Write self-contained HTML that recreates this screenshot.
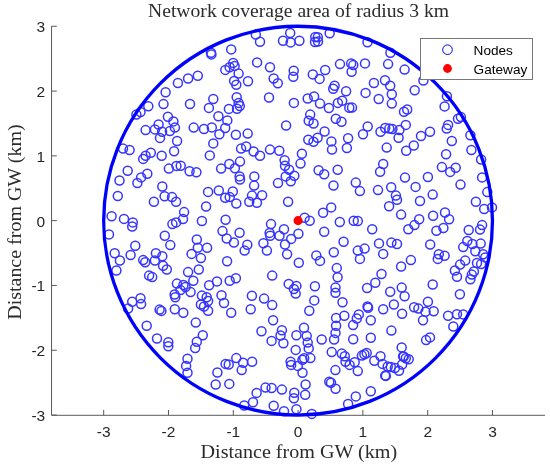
<!DOCTYPE html>
<html><head><meta charset="utf-8"><style>html,body{margin:0;padding:0;background:#fff;width:550px;height:466px;overflow:hidden}svg{display:block;filter:blur(0.3px)}</style></head>
<body><svg width="550" height="466" viewBox="0 0 550 466"><rect x="0" y="0" width="550" height="466" fill="#fff"/><path d="M51.55 26.2 V415.3 H545" fill="none" stroke="#5a5a5a" stroke-width="1"/><path d="M103.68 415.3 V410 M51.55 415.05 H56.8 M168.48 415.3 V410 M51.55 350.25 H56.8 M233.28 415.3 V410 M51.55 285.45 H56.8 M298.08 415.3 V410 M51.55 220.65 H56.8 M362.88 415.3 V410 M51.55 155.85 H56.8 M427.68 415.3 V410 M51.55 91.05 H56.8 M492.48 415.3 V410 M51.55 26.25 H56.8" fill="none" stroke="#5a5a5a" stroke-width="1"/><g font-family="Liberation Sans, Arial, sans-serif" font-size="15.5" fill="#262626"><text x="103.7" y="437.2" text-anchor="middle">-3</text><text x="45.2" y="421.0" text-anchor="end">-3</text><text x="168.5" y="437.2" text-anchor="middle">-2</text><text x="45.2" y="356.2" text-anchor="end">-2</text><text x="233.3" y="437.2" text-anchor="middle">-1</text><text x="45.2" y="291.4" text-anchor="end">-1</text><text x="298.1" y="437.2" text-anchor="middle">0</text><text x="45.2" y="226.7" text-anchor="end">0</text><text x="362.9" y="437.2" text-anchor="middle">1</text><text x="45.2" y="161.9" text-anchor="end">1</text><text x="427.7" y="437.2" text-anchor="middle">2</text><text x="45.2" y="97.1" text-anchor="end">2</text><text x="492.5" y="437.2" text-anchor="middle">3</text><text x="45.2" y="32.3" text-anchor="end">3</text></g><g fill="none" stroke="#3535ff" stroke-width="1.5"><circle cx="165.6" cy="92.3" r="4.5"/><circle cx="177.9" cy="83.0" r="4.5"/><circle cx="163.5" cy="104.1" r="4.5"/><circle cx="148.3" cy="106.2" r="4.5"/><circle cx="255.8" cy="34.6" r="4.5"/><circle cx="260.0" cy="41.8" r="4.5"/><circle cx="231.2" cy="49.4" r="4.5"/><circle cx="211.0" cy="52.7" r="4.5"/><circle cx="211.4" cy="54.4" r="4.5"/><circle cx="257.1" cy="62.4" r="4.5"/><circle cx="197.8" cy="75.8" r="4.5"/><circle cx="188.1" cy="78.5" r="4.5"/><circle cx="213.3" cy="99.0" r="4.5"/><circle cx="190.0" cy="104.0" r="4.5"/><circle cx="208.9" cy="107.9" r="4.5"/><circle cx="236.7" cy="97.3" r="4.5"/><circle cx="238.6" cy="102.9" r="4.5"/><circle cx="239.8" cy="106.0" r="4.5"/><circle cx="228.9" cy="108.9" r="4.5"/><circle cx="290.2" cy="33.0" r="4.5"/><circle cx="283.0" cy="40.8" r="4.5"/><circle cx="290.6" cy="42.4" r="4.5"/><circle cx="299.4" cy="40.8" r="4.5"/><circle cx="329.7" cy="33.2" r="4.5"/><circle cx="270.0" cy="67.2" r="4.5"/><circle cx="273.7" cy="78.5" r="4.5"/><circle cx="277.8" cy="83.2" r="4.5"/><circle cx="293.7" cy="70.7" r="4.5"/><circle cx="293.3" cy="76.8" r="4.5"/><circle cx="312.8" cy="74.4" r="4.5"/><circle cx="319.6" cy="78.9" r="4.5"/><circle cx="325.2" cy="70.0" r="4.5"/><circle cx="340.0" cy="64.1" r="4.5"/><circle cx="334.6" cy="85.7" r="4.5"/><circle cx="333.2" cy="88.7" r="4.5"/><circle cx="269.0" cy="97.5" r="4.5"/><circle cx="293.9" cy="102.9" r="4.5"/><circle cx="307.7" cy="98.5" r="4.5"/><circle cx="314.1" cy="96.4" r="4.5"/><circle cx="320.0" cy="103.6" r="4.5"/><circle cx="328.9" cy="108.0" r="4.5"/><circle cx="337.9" cy="102.9" r="4.5"/><circle cx="342.2" cy="100.8" r="4.5"/><circle cx="367.5" cy="42.2" r="4.5"/><circle cx="390.4" cy="52.7" r="4.5"/><circle cx="351.2" cy="63.4" r="4.5"/><circle cx="353.3" cy="65.1" r="4.5"/><circle cx="351.6" cy="71.7" r="4.5"/><circle cx="365.0" cy="63.4" r="4.5"/><circle cx="388.1" cy="64.1" r="4.5"/><circle cx="404.6" cy="69.6" r="4.5"/><circle cx="346.1" cy="91.3" r="4.5"/><circle cx="373.9" cy="83.0" r="4.5"/><circle cx="385.0" cy="80.3" r="4.5"/><circle cx="390.2" cy="85.7" r="4.5"/><circle cx="391.8" cy="94.3" r="4.5"/><circle cx="365.6" cy="92.9" r="4.5"/><circle cx="378.7" cy="99.0" r="4.5"/><circle cx="391.8" cy="103.6" r="4.5"/><circle cx="414.7" cy="90.2" r="4.5"/><circle cx="407.2" cy="109.5" r="4.5"/><circle cx="423.4" cy="80.5" r="4.5"/><circle cx="446.9" cy="96.2" r="4.5"/><circle cx="444.6" cy="106.4" r="4.5"/><circle cx="136.4" cy="114.6" r="4.5"/><circle cx="140.5" cy="112.1" r="4.5"/><circle cx="167.9" cy="116.7" r="4.5"/><circle cx="173.4" cy="121.4" r="4.5"/><circle cx="158.6" cy="124.5" r="4.5"/><circle cx="174.9" cy="127.6" r="4.5"/><circle cx="145.6" cy="130.1" r="4.5"/><circle cx="154.9" cy="129.4" r="4.5"/><circle cx="162.1" cy="131.7" r="4.5"/><circle cx="169.9" cy="131.1" r="4.5"/><circle cx="160.0" cy="137.9" r="4.5"/><circle cx="177.1" cy="141.0" r="4.5"/><circle cx="123.0" cy="148.6" r="4.5"/><circle cx="129.6" cy="150.0" r="4.5"/><circle cx="150.8" cy="152.7" r="4.5"/><circle cx="145.6" cy="155.8" r="4.5"/><circle cx="143.2" cy="158.9" r="4.5"/><circle cx="161.7" cy="155.8" r="4.5"/><circle cx="174.1" cy="151.3" r="4.5"/><circle cx="127.7" cy="170.8" r="4.5"/><circle cx="119.5" cy="180.5" r="4.5"/><circle cx="137.4" cy="183.0" r="4.5"/><circle cx="141.1" cy="177.4" r="4.5"/><circle cx="147.3" cy="173.7" r="4.5"/><circle cx="162.3" cy="186.5" r="4.5"/><circle cx="168.9" cy="168.6" r="4.5"/><circle cx="176.4" cy="165.9" r="4.5"/><circle cx="180.7" cy="165.7" r="4.5"/><circle cx="237.0" cy="108.8" r="4.5"/><circle cx="218.4" cy="116.2" r="4.5"/><circle cx="227.3" cy="120.4" r="4.5"/><circle cx="193.7" cy="127.6" r="4.5"/><circle cx="204.0" cy="129.0" r="4.5"/><circle cx="211.8" cy="127.4" r="4.5"/><circle cx="219.4" cy="134.2" r="4.5"/><circle cx="225.2" cy="128.0" r="4.5"/><circle cx="235.9" cy="134.8" r="4.5"/><circle cx="247.7" cy="133.6" r="4.5"/><circle cx="213.3" cy="143.4" r="4.5"/><circle cx="241.1" cy="148.6" r="4.5"/><circle cx="246.2" cy="146.5" r="4.5"/><circle cx="253.6" cy="151.5" r="4.5"/><circle cx="260.0" cy="155.8" r="4.5"/><circle cx="209.8" cy="155.4" r="4.5"/><circle cx="240.0" cy="161.6" r="4.5"/><circle cx="229.3" cy="164.0" r="4.5"/><circle cx="234.9" cy="168.2" r="4.5"/><circle cx="221.1" cy="168.6" r="4.5"/><circle cx="239.6" cy="176.4" r="4.5"/><circle cx="240.0" cy="179.5" r="4.5"/><circle cx="254.3" cy="176.4" r="4.5"/><circle cx="254.1" cy="185.6" r="4.5"/><circle cx="189.6" cy="171.3" r="4.5"/><circle cx="196.4" cy="172.3" r="4.5"/><circle cx="310.2" cy="114.6" r="4.5"/><circle cx="308.7" cy="120.8" r="4.5"/><circle cx="313.5" cy="123.5" r="4.5"/><circle cx="335.8" cy="118.7" r="4.5"/><circle cx="341.5" cy="121.8" r="4.5"/><circle cx="286.1" cy="125.5" r="4.5"/><circle cx="324.6" cy="131.5" r="4.5"/><circle cx="308.3" cy="139.7" r="4.5"/><circle cx="313.5" cy="141.8" r="4.5"/><circle cx="317.6" cy="137.7" r="4.5"/><circle cx="331.4" cy="141.4" r="4.5"/><circle cx="332.0" cy="149.6" r="4.5"/><circle cx="270.0" cy="149.6" r="4.5"/><circle cx="279.3" cy="150.7" r="4.5"/><circle cx="301.9" cy="153.7" r="4.5"/><circle cx="300.5" cy="163.6" r="4.5"/><circle cx="284.6" cy="160.3" r="4.5"/><circle cx="285.0" cy="165.7" r="4.5"/><circle cx="289.1" cy="169.8" r="4.5"/><circle cx="294.3" cy="175.7" r="4.5"/><circle cx="285.7" cy="176.4" r="4.5"/><circle cx="290.8" cy="181.2" r="4.5"/><circle cx="278.0" cy="183.1" r="4.5"/><circle cx="318.6" cy="170.2" r="4.5"/><circle cx="324.2" cy="174.3" r="4.5"/><circle cx="337.7" cy="169.8" r="4.5"/><circle cx="333.5" cy="185.5" r="4.5"/><circle cx="404.0" cy="111.7" r="4.5"/><circle cx="367.7" cy="126.5" r="4.5"/><circle cx="363.0" cy="134.2" r="4.5"/><circle cx="380.5" cy="131.7" r="4.5"/><circle cx="385.2" cy="128.0" r="4.5"/><circle cx="389.3" cy="128.6" r="4.5"/><circle cx="392.4" cy="129.0" r="4.5"/><circle cx="399.4" cy="130.1" r="4.5"/><circle cx="398.6" cy="137.7" r="4.5"/><circle cx="405.8" cy="124.9" r="4.5"/><circle cx="421.0" cy="136.0" r="4.5"/><circle cx="348.1" cy="138.3" r="4.5"/><circle cx="346.9" cy="148.0" r="4.5"/><circle cx="386.7" cy="147.6" r="4.5"/><circle cx="413.8" cy="145.5" r="4.5"/><circle cx="406.2" cy="150.7" r="4.5"/><circle cx="383.2" cy="164.0" r="4.5"/><circle cx="380.1" cy="171.7" r="4.5"/><circle cx="355.8" cy="182.6" r="4.5"/><circle cx="391.2" cy="187.3" r="4.5"/><circle cx="405.0" cy="177.6" r="4.5"/><circle cx="415.6" cy="186.9" r="4.5"/><circle cx="458.0" cy="118.7" r="4.5"/><circle cx="460.9" cy="117.1" r="4.5"/><circle cx="448.1" cy="124.9" r="4.5"/><circle cx="446.7" cy="128.6" r="4.5"/><circle cx="430.0" cy="131.7" r="4.5"/><circle cx="470.4" cy="135.2" r="4.5"/><circle cx="451.8" cy="141.0" r="4.5"/><circle cx="471.4" cy="150.0" r="4.5"/><circle cx="446.1" cy="154.2" r="4.5"/><circle cx="481.1" cy="159.5" r="4.5"/><circle cx="441.9" cy="167.1" r="4.5"/><circle cx="450.2" cy="171.9" r="4.5"/><circle cx="455.7" cy="167.8" r="4.5"/><circle cx="427.9" cy="177.0" r="4.5"/><circle cx="460.5" cy="184.6" r="4.5"/><circle cx="482.1" cy="177.4" r="4.5"/><circle cx="117.8" cy="196.0" r="4.5"/><circle cx="164.6" cy="196.2" r="4.5"/><circle cx="172.0" cy="197.1" r="4.5"/><circle cx="176.1" cy="201.8" r="4.5"/><circle cx="153.9" cy="201.8" r="4.5"/><circle cx="111.6" cy="216.2" r="4.5"/><circle cx="124.0" cy="218.9" r="4.5"/><circle cx="132.8" cy="222.4" r="4.5"/><circle cx="132.2" cy="226.5" r="4.5"/><circle cx="184.1" cy="212.1" r="4.5"/><circle cx="183.0" cy="219.1" r="4.5"/><circle cx="176.1" cy="222.4" r="4.5"/><circle cx="172.4" cy="224.1" r="4.5"/><circle cx="109.0" cy="234.4" r="4.5"/><circle cx="164.8" cy="235.8" r="4.5"/><circle cx="170.3" cy="245.1" r="4.5"/><circle cx="135.3" cy="245.7" r="4.5"/><circle cx="130.6" cy="255.0" r="4.5"/><circle cx="114.7" cy="253.3" r="4.5"/><circle cx="119.9" cy="260.5" r="4.5"/><circle cx="143.2" cy="260.1" r="4.5"/><circle cx="145.2" cy="262.2" r="4.5"/><circle cx="155.9" cy="253.3" r="4.5"/><circle cx="154.9" cy="260.5" r="4.5"/><circle cx="162.3" cy="256.2" r="4.5"/><circle cx="163.1" cy="265.7" r="4.5"/><circle cx="208.1" cy="191.9" r="4.5"/><circle cx="218.8" cy="190.5" r="4.5"/><circle cx="225.2" cy="197.7" r="4.5"/><circle cx="229.7" cy="197.1" r="4.5"/><circle cx="232.8" cy="191.5" r="4.5"/><circle cx="236.3" cy="203.5" r="4.5"/><circle cx="252.0" cy="195.6" r="4.5"/><circle cx="249.3" cy="201.8" r="4.5"/><circle cx="256.9" cy="202.8" r="4.5"/><circle cx="262.1" cy="195.2" r="4.5"/><circle cx="206.1" cy="206.5" r="4.5"/><circle cx="201.9" cy="221.0" r="4.5"/><circle cx="225.6" cy="219.7" r="4.5"/><circle cx="222.5" cy="231.1" r="4.5"/><circle cx="226.7" cy="238.5" r="4.5"/><circle cx="233.9" cy="242.6" r="4.5"/><circle cx="239.6" cy="232.7" r="4.5"/><circle cx="247.3" cy="244.7" r="4.5"/><circle cx="244.6" cy="250.6" r="4.5"/><circle cx="263.4" cy="243.3" r="4.5"/><circle cx="196.8" cy="239.5" r="4.5"/><circle cx="197.8" cy="247.8" r="4.5"/><circle cx="207.1" cy="247.8" r="4.5"/><circle cx="191.6" cy="253.9" r="4.5"/><circle cx="200.9" cy="258.1" r="4.5"/><circle cx="227.1" cy="261.2" r="4.5"/><circle cx="288.1" cy="201.8" r="4.5"/><circle cx="331.2" cy="207.4" r="4.5"/><circle cx="323.1" cy="212.7" r="4.5"/><circle cx="304.6" cy="217.7" r="4.5"/><circle cx="309.7" cy="220.8" r="4.5"/><circle cx="339.8" cy="222.0" r="4.5"/><circle cx="271.0" cy="224.1" r="4.5"/><circle cx="284.0" cy="229.2" r="4.5"/><circle cx="269.6" cy="232.9" r="4.5"/><circle cx="270.2" cy="235.8" r="4.5"/><circle cx="279.5" cy="235.8" r="4.5"/><circle cx="291.2" cy="238.9" r="4.5"/><circle cx="298.4" cy="233.7" r="4.5"/><circle cx="285.0" cy="244.5" r="4.5"/><circle cx="266.9" cy="250.6" r="4.5"/><circle cx="287.1" cy="254.3" r="4.5"/><circle cx="298.8" cy="262.7" r="4.5"/><circle cx="324.2" cy="231.7" r="4.5"/><circle cx="343.6" cy="241.8" r="4.5"/><circle cx="333.8" cy="252.3" r="4.5"/><circle cx="316.3" cy="255.4" r="4.5"/><circle cx="320.0" cy="260.9" r="4.5"/><circle cx="336.8" cy="268.1" r="4.5"/><circle cx="359.9" cy="191.1" r="4.5"/><circle cx="378.0" cy="190.1" r="4.5"/><circle cx="395.9" cy="195.6" r="4.5"/><circle cx="397.0" cy="199.8" r="4.5"/><circle cx="389.1" cy="206.3" r="4.5"/><circle cx="420.0" cy="201.0" r="4.5"/><circle cx="353.7" cy="220.8" r="4.5"/><circle cx="357.8" cy="221.0" r="4.5"/><circle cx="401.1" cy="214.6" r="4.5"/><circle cx="419.2" cy="219.3" r="4.5"/><circle cx="414.5" cy="225.1" r="4.5"/><circle cx="408.3" cy="229.2" r="4.5"/><circle cx="372.2" cy="229.2" r="4.5"/><circle cx="379.0" cy="243.4" r="4.5"/><circle cx="391.4" cy="242.6" r="4.5"/><circle cx="397.0" cy="244.0" r="4.5"/><circle cx="357.8" cy="250.6" r="4.5"/><circle cx="364.6" cy="248.6" r="4.5"/><circle cx="383.2" cy="253.9" r="4.5"/><circle cx="359.9" cy="258.9" r="4.5"/><circle cx="410.9" cy="260.1" r="4.5"/><circle cx="401.1" cy="266.5" r="4.5"/><circle cx="432.7" cy="194.6" r="4.5"/><circle cx="487.3" cy="192.1" r="4.5"/><circle cx="475.9" cy="201.8" r="4.5"/><circle cx="484.2" cy="209.0" r="4.5"/><circle cx="492.0" cy="207.4" r="4.5"/><circle cx="433.1" cy="215.8" r="4.5"/><circle cx="445.0" cy="212.5" r="4.5"/><circle cx="449.1" cy="219.3" r="4.5"/><circle cx="436.4" cy="230.7" r="4.5"/><circle cx="443.4" cy="228.0" r="4.5"/><circle cx="468.7" cy="230.0" r="4.5"/><circle cx="480.0" cy="229.6" r="4.5"/><circle cx="482.1" cy="225.1" r="4.5"/><circle cx="430.2" cy="244.5" r="4.5"/><circle cx="467.3" cy="241.0" r="4.5"/><circle cx="463.2" cy="247.1" r="4.5"/><circle cx="472.4" cy="244.0" r="4.5"/><circle cx="480.7" cy="243.6" r="4.5"/><circle cx="475.3" cy="251.3" r="4.5"/><circle cx="438.8" cy="254.3" r="4.5"/><circle cx="437.8" cy="258.9" r="4.5"/><circle cx="444.6" cy="255.8" r="4.5"/><circle cx="483.1" cy="254.3" r="4.5"/><circle cx="485.2" cy="257.4" r="4.5"/><circle cx="465.2" cy="260.6" r="4.5"/><circle cx="460.1" cy="264.6" r="4.5"/><circle cx="477.0" cy="263.0" r="4.5"/><circle cx="481.1" cy="264.1" r="4.5"/><circle cx="166.8" cy="269.5" r="4.5"/><circle cx="116.4" cy="270.5" r="4.5"/><circle cx="149.1" cy="275.6" r="4.5"/><circle cx="152.2" cy="277.1" r="4.5"/><circle cx="176.9" cy="283.6" r="4.5"/><circle cx="180.5" cy="290.1" r="4.5"/><circle cx="183.4" cy="284.9" r="4.5"/><circle cx="174.6" cy="294.5" r="4.5"/><circle cx="175.3" cy="297.3" r="4.5"/><circle cx="132.2" cy="301.8" r="4.5"/><circle cx="140.5" cy="298.3" r="4.5"/><circle cx="141.1" cy="304.1" r="4.5"/><circle cx="128.1" cy="308.6" r="4.5"/><circle cx="159.6" cy="309.6" r="4.5"/><circle cx="161.4" cy="310.9" r="4.5"/><circle cx="174.8" cy="309.2" r="4.5"/><circle cx="183.3" cy="312.7" r="4.5"/><circle cx="146.7" cy="325.7" r="4.5"/><circle cx="157.0" cy="338.5" r="4.5"/><circle cx="168.3" cy="342.2" r="4.5"/><circle cx="168.3" cy="346.3" r="4.5"/><circle cx="188.1" cy="272.1" r="4.5"/><circle cx="198.8" cy="269.5" r="4.5"/><circle cx="193.3" cy="280.8" r="4.5"/><circle cx="185.5" cy="287.0" r="4.5"/><circle cx="190.6" cy="292.1" r="4.5"/><circle cx="209.1" cy="285.3" r="4.5"/><circle cx="217.0" cy="281.4" r="4.5"/><circle cx="229.7" cy="280.8" r="4.5"/><circle cx="235.9" cy="278.3" r="4.5"/><circle cx="201.9" cy="295.6" r="4.5"/><circle cx="206.7" cy="297.3" r="4.5"/><circle cx="208.1" cy="301.0" r="4.5"/><circle cx="200.9" cy="304.5" r="4.5"/><circle cx="204.0" cy="306.5" r="4.5"/><circle cx="208.1" cy="310.7" r="4.5"/><circle cx="221.5" cy="295.2" r="4.5"/><circle cx="224.0" cy="303.0" r="4.5"/><circle cx="231.2" cy="312.7" r="4.5"/><circle cx="251.9" cy="295.8" r="4.5"/><circle cx="250.7" cy="309.2" r="4.5"/><circle cx="264.1" cy="298.6" r="4.5"/><circle cx="261.5" cy="331.3" r="4.5"/><circle cx="195.8" cy="322.6" r="4.5"/><circle cx="202.8" cy="335.2" r="4.5"/><circle cx="196.8" cy="341.7" r="4.5"/><circle cx="195.2" cy="348.1" r="4.5"/><circle cx="337.6" cy="277.3" r="4.5"/><circle cx="272.2" cy="275.6" r="4.5"/><circle cx="288.7" cy="283.9" r="4.5"/><circle cx="296.4" cy="285.9" r="4.5"/><circle cx="293.9" cy="289.0" r="4.5"/><circle cx="295.7" cy="293.6" r="4.5"/><circle cx="314.9" cy="286.3" r="4.5"/><circle cx="335.5" cy="287.6" r="4.5"/><circle cx="335.5" cy="292.7" r="4.5"/><circle cx="272.2" cy="305.1" r="4.5"/><circle cx="314.3" cy="300.4" r="4.5"/><circle cx="309.3" cy="310.7" r="4.5"/><circle cx="342.5" cy="302.2" r="4.5"/><circle cx="344.3" cy="315.8" r="4.5"/><circle cx="336.1" cy="317.9" r="4.5"/><circle cx="336.1" cy="325.7" r="4.5"/><circle cx="335.5" cy="332.9" r="4.5"/><circle cx="334.1" cy="339.5" r="4.5"/><circle cx="273.1" cy="320.3" r="4.5"/><circle cx="281.9" cy="330.2" r="4.5"/><circle cx="280.5" cy="335.5" r="4.5"/><circle cx="271.6" cy="340.9" r="4.5"/><circle cx="283.4" cy="343.2" r="4.5"/><circle cx="296.4" cy="335.3" r="4.5"/><circle cx="304.0" cy="327.8" r="4.5"/><circle cx="306.7" cy="336.0" r="4.5"/><circle cx="307.7" cy="342.6" r="4.5"/><circle cx="321.7" cy="339.5" r="4.5"/><circle cx="381.5" cy="274.0" r="4.5"/><circle cx="375.3" cy="282.8" r="4.5"/><circle cx="367.1" cy="288.0" r="4.5"/><circle cx="390.2" cy="291.7" r="4.5"/><circle cx="401.7" cy="287.6" r="4.5"/><circle cx="404.6" cy="296.2" r="4.5"/><circle cx="367.5" cy="306.5" r="4.5"/><circle cx="368.1" cy="307.8" r="4.5"/><circle cx="383.2" cy="309.2" r="4.5"/><circle cx="393.9" cy="304.5" r="4.5"/><circle cx="402.1" cy="313.7" r="4.5"/><circle cx="414.1" cy="307.2" r="4.5"/><circle cx="418.4" cy="308.6" r="4.5"/><circle cx="423.0" cy="320.2" r="4.5"/><circle cx="358.8" cy="314.4" r="4.5"/><circle cx="356.8" cy="318.5" r="4.5"/><circle cx="353.1" cy="325.1" r="4.5"/><circle cx="370.8" cy="320.3" r="4.5"/><circle cx="391.4" cy="330.6" r="4.5"/><circle cx="370.8" cy="337.8" r="4.5"/><circle cx="353.2" cy="339.3" r="4.5"/><circle cx="401.7" cy="347.4" r="4.5"/><circle cx="454.9" cy="270.5" r="4.5"/><circle cx="457.0" cy="276.7" r="4.5"/><circle cx="473.9" cy="271.5" r="4.5"/><circle cx="471.8" cy="274.6" r="4.5"/><circle cx="470.4" cy="279.3" r="4.5"/><circle cx="432.7" cy="284.5" r="4.5"/><circle cx="459.9" cy="294.2" r="4.5"/><circle cx="427.9" cy="301.8" r="4.5"/><circle cx="425.5" cy="311.7" r="4.5"/><circle cx="433.7" cy="311.3" r="4.5"/><circle cx="448.1" cy="315.8" r="4.5"/><circle cx="457.0" cy="314.2" r="4.5"/><circle cx="463.2" cy="314.4" r="4.5"/><circle cx="453.3" cy="326.5" r="4.5"/><circle cx="426.1" cy="340.1" r="4.5"/><circle cx="430.0" cy="337.4" r="4.5"/><circle cx="187.5" cy="358.7" r="4.5"/><circle cx="186.1" cy="365.9" r="4.5"/><circle cx="187.5" cy="372.7" r="4.5"/><circle cx="217.4" cy="372.5" r="4.5"/><circle cx="215.7" cy="384.5" r="4.5"/><circle cx="229.3" cy="383.9" r="4.5"/><circle cx="225.6" cy="363.9" r="4.5"/><circle cx="228.7" cy="364.5" r="4.5"/><circle cx="236.3" cy="358.1" r="4.5"/><circle cx="243.1" cy="362.8" r="4.5"/><circle cx="241.7" cy="370.1" r="4.5"/><circle cx="252.1" cy="361.8" r="4.5"/><circle cx="256.6" cy="392.9" r="4.5"/><circle cx="253.0" cy="402.3" r="4.5"/><circle cx="244.2" cy="405.5" r="4.5"/><circle cx="308.7" cy="348.4" r="4.5"/><circle cx="295.7" cy="349.9" r="4.5"/><circle cx="290.6" cy="361.8" r="4.5"/><circle cx="291.2" cy="364.9" r="4.5"/><circle cx="297.8" cy="365.9" r="4.5"/><circle cx="302.5" cy="359.8" r="4.5"/><circle cx="304.2" cy="358.3" r="4.5"/><circle cx="310.4" cy="358.1" r="4.5"/><circle cx="302.5" cy="372.7" r="4.5"/><circle cx="331.7" cy="352.1" r="4.5"/><circle cx="341.8" cy="353.6" r="4.5"/><circle cx="335.4" cy="370.1" r="4.5"/><circle cx="329.3" cy="381.8" r="4.5"/><circle cx="331.0" cy="382.7" r="4.5"/><circle cx="335.6" cy="388.8" r="4.5"/><circle cx="305.6" cy="384.5" r="4.5"/><circle cx="305.2" cy="394.8" r="4.5"/><circle cx="265.5" cy="387.6" r="4.5"/><circle cx="271.6" cy="388.0" r="4.5"/><circle cx="281.9" cy="389.6" r="4.5"/><circle cx="294.3" cy="392.7" r="4.5"/><circle cx="293.9" cy="398.3" r="4.5"/><circle cx="273.7" cy="405.7" r="4.5"/><circle cx="284.0" cy="411.3" r="4.5"/><circle cx="296.4" cy="409.2" r="4.5"/><circle cx="311.8" cy="413.9" r="4.5"/><circle cx="344.8" cy="356.2" r="4.5"/><circle cx="345.5" cy="361.8" r="4.5"/><circle cx="349.6" cy="364.9" r="4.5"/><circle cx="354.7" cy="362.2" r="4.5"/><circle cx="357.8" cy="371.1" r="4.5"/><circle cx="361.9" cy="355.6" r="4.5"/><circle cx="364.4" cy="354.2" r="4.5"/><circle cx="366.7" cy="353.0" r="4.5"/><circle cx="374.3" cy="360.8" r="4.5"/><circle cx="380.5" cy="356.2" r="4.5"/><circle cx="382.5" cy="363.9" r="4.5"/><circle cx="387.7" cy="366.5" r="4.5"/><circle cx="390.8" cy="367.0" r="4.5"/><circle cx="394.9" cy="368.0" r="4.5"/><circle cx="399.0" cy="370.7" r="4.5"/><circle cx="402.1" cy="364.5" r="4.5"/><circle cx="403.1" cy="356.2" r="4.5"/><circle cx="405.8" cy="358.3" r="4.5"/><circle cx="408.7" cy="359.3" r="4.5"/><circle cx="385.2" cy="375.6" r="4.5"/><circle cx="370.8" cy="391.3" r="4.5"/><circle cx="355.8" cy="396.4" r="4.5"/><circle cx="348.1" cy="404.0" r="4.5"/><circle cx="225.3" cy="69.9" r="4.5"/><circle cx="229.6" cy="67.2" r="4.5"/><circle cx="233.2" cy="62.9" r="4.5"/><circle cx="234.6" cy="65.9" r="4.5"/><circle cx="238.6" cy="73.6" r="4.5"/><circle cx="234.1" cy="80.9" r="4.5"/><circle cx="236.3" cy="84.8" r="4.5"/><circle cx="248.0" cy="81.3" r="4.5"/><circle cx="315.3" cy="37.0" r="4.5"/><circle cx="317.8" cy="37.2" r="4.5"/><circle cx="315.0" cy="42.0" r="4.5"/><circle cx="318.0" cy="41.5" r="4.5"/><circle cx="349.3" cy="107.8" r="4.5"/><circle cx="352.0" cy="107.6" r="4.5"/><circle cx="385.9" cy="375.9" r="4.5"/><circle cx="403.7" cy="356.8" r="4.5"/></g><circle cx="298.08" cy="220.65" r="194.4" fill="none" stroke="#0000ff" stroke-width="3.3"/><circle cx="298.08" cy="220.65" r="4.55" fill="#ff0000"/><rect x="420.5" y="38.5" width="112" height="41" fill="#fff" stroke="#777" stroke-width="1"/><circle cx="447.5" cy="49.7" r="4.8" fill="none" stroke="#0000ff" stroke-width="1"/><circle cx="447.5" cy="68.5" r="4.4" fill="#ff0000"/><g font-family="Liberation Sans, Arial, sans-serif" font-size="13.6" fill="#000"><text x="473.6" y="54.6">Nodes</text><text x="473.6" y="73.7">Gateway</text></g><g font-family="Liberation Serif, Times New Roman, serif" font-size="18" fill="#2b2b2b"><text x="148.0" y="16.9" font-size="19.0" textLength="301.0" lengthAdjust="spacingAndGlyphs">Network coverage area of radius 3 km</text><text x="200.6" y="457.8" font-size="18.5" textLength="196.5" lengthAdjust="spacingAndGlyphs">Distance from GW (km)</text><text transform="translate(20.9 319.8) rotate(-90)" font-size="18.5" textLength="195.5" lengthAdjust="spacingAndGlyphs">Distance from GW (km)</text></g></svg></body></html>
